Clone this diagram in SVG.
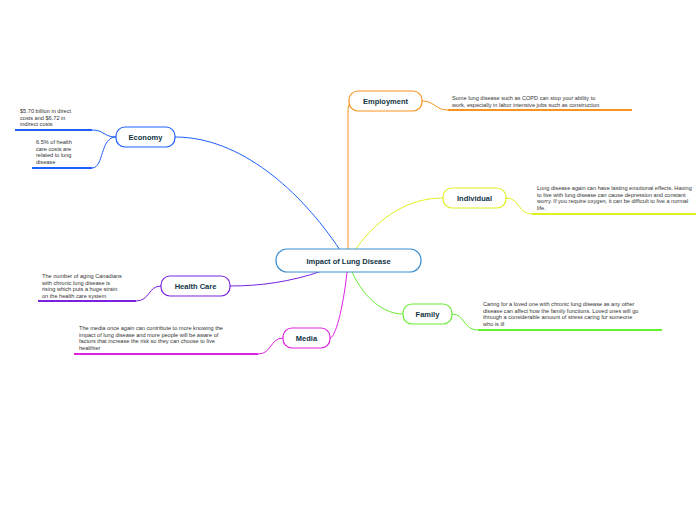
<svg xmlns="http://www.w3.org/2000/svg" width="696" height="520" viewBox="0 0 696 520">
<style>
.n{fill:#fff;stroke-width:1.2}
.nt{font-family:"Liberation Sans",Arial,sans-serif;font-weight:bold;font-size:7.5px;fill:#113344;text-anchor:middle}
.lt{font-family:"Liberation Sans",Arial,sans-serif;font-size:5.6px;fill:#333}
.c{fill:none;stroke-width:1}
.u{fill:none;stroke-width:1.8}
</style>
<rect width="696" height="520" fill="#fff"/>
<g id="connectors">
<path class="c" stroke="#1f5fff" d="M340,250 C300,190 240,137 175,137" stroke-width="1.3"/>
<path class="c" stroke="#f7941d" d="M348,250 L348,110 Q348,101 355,101" stroke-width="1.3"/>
<path class="c" stroke="#e0f020" d="M355,250 C380,215 410,198 443,198" stroke-width="1.3"/>
<path class="c" stroke="#7a22e0" d="M322,271 C290,282 260,286 230,286" stroke-width="1.3"/>
<path class="c" stroke="#e020e0" d="M347,272 C343,310 335,338 330,338" stroke-width="1.3"/>
<path class="c" stroke="#66ee33" d="M352,272 C365,300 385,314 403,314" stroke-width="1.3"/>
<path class="c" stroke="#f7941d" d="M422,101 C435,101 435,110 448,110"/>
<path class="c" stroke="#e0f020" d="M506,198 C520,198 518,214 532,214"/>
<path class="c" stroke="#66ee33" d="M452,314 C465,314 463,330 478,330"/>
<path class="c" stroke="#1f5fff" d="M116,137 C104,137 104,130 92,130"/>
<path class="c" stroke="#1f5fff" d="M116,137 C100,137 104,168 92,168"/>
<path class="c" stroke="#7a22e0" d="M161,286 C148,286 150,301 136,301"/>
<path class="c" stroke="#e020e0" d="M283,338 C270,338 272,354 258,354"/>
<path class="u" stroke="#f7941d" d="M448,110 H632"/>
<path class="u" stroke="#e0f020" d="M532,214 H696"/>
<path class="u" stroke="#66ee33" d="M478,330 H662"/>
<path class="u" stroke="#1f5fff" d="M15,130 H92"/>
<path class="u" stroke="#1f5fff" d="M32,168 H92"/>
<path class="u" stroke="#7a22e0" d="M38,301 H136"/>
<path class="u" stroke="#e020e0" d="M74,354 H258"/>
</g>
<g id="center"><rect class="n" x="276" y="249" width="145" height="23" rx="11" stroke="#3a8fd0"/><text class="nt" x="348.5" y="264" font-size="9">Impact of Lung Disease</text></g>
<g id="employment"><rect class="n" x="349" y="91" width="73" height="20" rx="9" stroke="#f7941d"/><text class="nt" x="385.5" y="104">Employment</text></g>
<g id="economy"><rect class="n" x="116" y="127" width="59" height="20" rx="9" stroke="#1f5fff"/><text class="nt" x="145.5" y="140">Economy</text></g>
<g id="individual"><rect class="n" x="443" y="188" width="63" height="20" rx="9" stroke="#e0f020"/><text class="nt" x="474.5" y="201">Individual</text></g>
<g id="healthcare"><rect class="n" x="161" y="276" width="69" height="20" rx="9" stroke="#7a22e0"/><text class="nt" x="195.5" y="289">Health Care</text></g>
<g id="media"><rect class="n" x="283" y="328" width="47" height="20" rx="9" stroke="#e020e0"/><text class="nt" x="306.5" y="341">Media</text></g>
<g id="family"><rect class="n" x="403" y="304" width="49" height="20" rx="9" stroke="#66ee33"/><text class="nt" x="427.5" y="317">Family</text></g>
<g id="leaf-employment"><text class="lt" x="452" y="100">Some lung disease such as COPD can stop your ability to<tspan x="452" dy="6.6">work, especially in labor intensive jobs such as construction</tspan></text></g>
<g id="leaf-individual"><text class="lt" x="537" y="190">Lung disease again can have lasting emotional effects.  Having<tspan x="537" dy="6.6">to live with lung disease can cause depression and constant</tspan><tspan x="537" dy="6.6">worry. If you require oxygen, it can be difficult to live a normal</tspan><tspan x="537" dy="6.6">life.</tspan></text></g>
<g id="leaf-family"><text class="lt" x="483" y="306">Caring for a loved one with chronic lung disease as any other<tspan x="483" dy="6.6">disease can affect how the family functions. Loved ones will go</tspan><tspan x="483" dy="6.6">through a considerable amount of stress caring for someone</tspan><tspan x="483" dy="6.6">who is ill</tspan></text></g>
<g id="leaf-econ1"><text class="lt" x="20" y="113">$5.70 billion in direct<tspan x="20" dy="6.6">costs and $6.72 in</tspan><tspan x="20" dy="6.6">indirect costs</tspan></text></g>
<g id="leaf-econ2"><text class="lt" x="36" y="144">6.5% of health<tspan x="36" dy="6.6">care costs are</tspan><tspan x="36" dy="6.6">related to lung</tspan><tspan x="36" dy="6.6">disease</tspan></text></g>
<g id="leaf-health"><text class="lt" x="42" y="278">The number of aging Canadians<tspan x="42" dy="6.6">with chronic lung disease is</tspan><tspan x="42" dy="6.6">rising which puts a huge strain</tspan><tspan x="42" dy="6.6">on the health care system</tspan></text></g>
<g id="leaf-media"><text class="lt" x="79" y="330">The media once again can contribute to more knowing the<tspan x="79" dy="6.6">impact of lung disease and more people will be aware of</tspan><tspan x="79" dy="6.6">factors that increase the risk so they can choose to live</tspan><tspan x="79" dy="6.6">healthier</tspan></text></g>
</svg>
